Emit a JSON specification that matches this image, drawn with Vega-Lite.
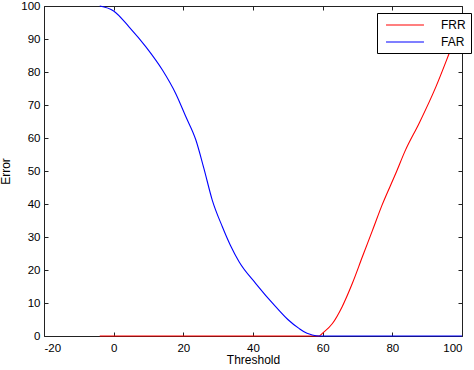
{
  "$schema": "https://vega.github.io/schema/vega-lite/v6.json",
  "width": 418,
  "height": 330,
  "autosize": {"type": "none"},
  "padding": {"left": 44, "top": 6, "right": 12, "bottom": 34},
  "background": "white",
  "config": {
    "view": {"stroke": null},
    "axis": {
      "labelFont": "Liberation Sans",
      "labelFontSize": 11.5,
      "labelColor": "black",
      "titleFont": "Liberation Sans",
      "titleFontSize": 12,
      "titleFontWeight": "normal",
      "titleColor": "black",
      "domainColor": "#222222",
      "tickColor": "#222222",
      "tickSize": -4,
      "grid": false,
      "zindex": 0
    }
  },
  "data": {
    "values": [
      {"series": "FRR", "threshold": -4, "error": 0},
      {"series": "FRR", "threshold": 20, "error": 0},
      {"series": "FRR", "threshold": 40, "error": 0},
      {"series": "FRR", "threshold": 59, "error": 0},
      {"series": "FRR", "threshold": 59.9, "error": 0.8},
      {"series": "FRR", "threshold": 62.8, "error": 3.8},
      {"series": "FRR", "threshold": 65.6, "error": 8.9},
      {"series": "FRR", "threshold": 68.5, "error": 15.9},
      {"series": "FRR", "threshold": 71.4, "error": 24},
      {"series": "FRR", "threshold": 74.3, "error": 32},
      {"series": "FRR", "threshold": 77.1, "error": 39.8},
      {"series": "FRR", "threshold": 81, "error": 49.3},
      {"series": "FRR", "threshold": 83.8, "error": 56.4},
      {"series": "FRR", "threshold": 87.7, "error": 64.5},
      {"series": "FRR", "threshold": 92.5, "error": 75.5},
      {"series": "FRR", "threshold": 96.3, "error": 85.6},
      {"series": "FRR", "threshold": 100, "error": 95.8},
      {"series": "FAR", "threshold": -4, "error": 100},
      {"series": "FAR", "threshold": 0, "error": 98.5},
      {"series": "FAR", "threshold": 4.4, "error": 93.7},
      {"series": "FAR", "threshold": 9.2, "error": 87.7},
      {"series": "FAR", "threshold": 14, "error": 80.6},
      {"series": "FAR", "threshold": 17.8, "error": 73.5},
      {"series": "FAR", "threshold": 20.7, "error": 66.5},
      {"series": "FAR", "threshold": 23.6, "error": 59.4},
      {"series": "FAR", "threshold": 25.9, "error": 50.8},
      {"series": "FAR", "threshold": 28.3, "error": 41.2},
      {"series": "FAR", "threshold": 31.2, "error": 33.1},
      {"series": "FAR", "threshold": 33.5, "error": 27.5},
      {"series": "FAR", "threshold": 36, "error": 22.5},
      {"series": "FAR", "threshold": 40.8, "error": 15.9},
      {"series": "FAR", "threshold": 46.5, "error": 8.9},
      {"series": "FAR", "threshold": 50, "error": 5},
      {"series": "FAR", "threshold": 53.2, "error": 2.3},
      {"series": "FAR", "threshold": 55.5, "error": 0.8},
      {"series": "FAR", "threshold": 57, "error": 0.3},
      {"series": "FAR", "threshold": 59, "error": 0},
      {"series": "FAR", "threshold": 80, "error": 0},
      {"series": "FAR", "threshold": 100, "error": 0}
    ]
  },
  "layer": [
    {
      "mark": {"type": "line", "strokeWidth": 1.1, "interpolate": "monotone"},
      "encoding": {
        "x": {
          "field": "threshold", "type": "quantitative",
          "scale": {"domain": [-20, 100], "nice": false, "zero": false},
          "axis": {"orient": "bottom", "values": [-20, 0, 20, 40, 60, 80, 100], "labelExpr": "datum.value + ''", "labelPadding": 10, "title": "Threshold", "titlePadding": 1}
        },
        "y": {
          "field": "error", "type": "quantitative",
          "scale": {"domain": [0, 100], "nice": false},
          "axis": {"orient": "left", "values": [0, 10, 20, 30, 40, 50, 60, 70, 80, 90, 100], "labelPadding": 8, "title": "Error", "titlePadding": 8}
        },
        "color": {
          "field": "series", "type": "nominal",
          "scale": {"domain": ["FRR", "FAR"], "range": ["#ff0000", "#0000ff"]},
          "legend": {
            "orient": "none",
            "legendX": 333,
            "legendY": 7,
            "title": null,
            "symbolType": "M-3,0H3",
            "symbolSize": 160,
            "symbolOffset": 16,
            "symbolStrokeWidth": 1.1,
            "symbolFillColor": "transparent",
            "labelFont": "Liberation Sans",
            "labelFontSize": 12,
            "labelColor": "black",
            "labelOffset": 29,
            "strokeColor": "black",
            "fillColor": "white",
            "padding": 5,
            "rowPadding": 4
          }
        }
      }
    },
    {
      "mark": {"type": "line", "opacity": 0},
      "encoding": {
        "x": {
          "field": "threshold", "type": "quantitative",
          "scale": {"domain": [-20, 100], "nice": false, "zero": false},
          "axis": {"orient": "top", "values": [-20, 0, 20, 40, 60, 80, 100], "labels": false, "title": null}
        },
        "y": {
          "field": "error", "type": "quantitative",
          "scale": {"domain": [0, 100], "nice": false},
          "axis": {"orient": "right", "values": [0, 10, 20, 30, 40, 50, 60, 70, 80, 90, 100], "labels": false, "title": null}
        },
        "detail": {"field": "series"}
      }
    }
  ],
  "resolve": {"axis": {"x": "independent", "y": "independent"}}
}
